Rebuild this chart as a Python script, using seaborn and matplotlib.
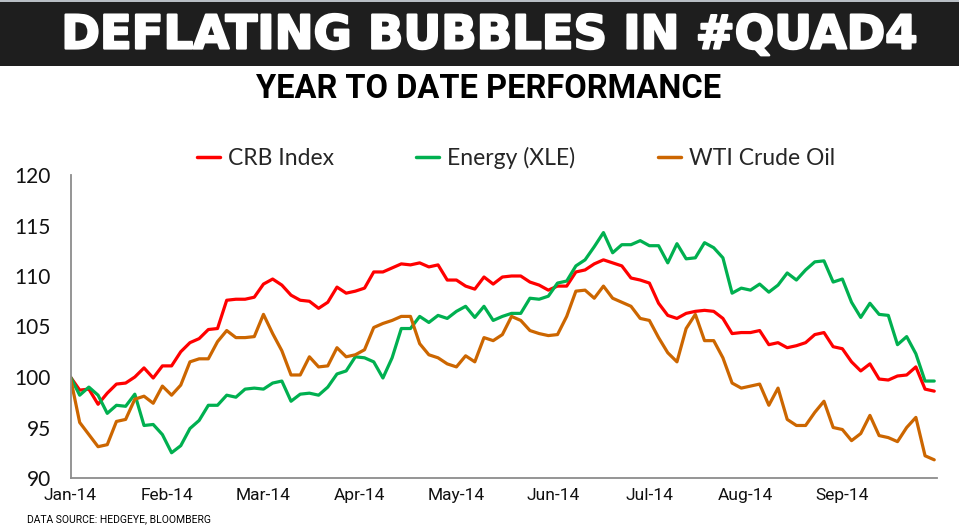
import numpy as np
import pandas as pd
import matplotlib
matplotlib.use("Agg")
import matplotlib.pyplot as plt
from matplotlib import font_manager as fm
from matplotlib.patches import Rectangle
from matplotlib.lines import Line2D
import matplotlib.patheffects as pe
import seaborn as sns

# ---------------- data (every 2nd trading day, YTD 2014, rebased to 100) -------------
crb = [100.0, 98.7, 98.8, 97.3, 98.4, 99.3, 99.4, 100.0, 100.9, 99.9,
       101.1, 101.1, 102.5, 103.4, 103.8, 104.7, 104.8, 107.6, 107.7, 107.7,
       107.9, 109.2, 109.7, 109.1, 108.1, 107.6, 107.5, 106.8, 107.4, 108.9,
       108.3, 108.5, 108.8, 110.4, 110.4, 110.8, 111.2, 111.1, 111.3, 110.9,
       111.1, 109.6, 109.6, 109.0, 108.7, 109.9, 109.2, 109.9, 110.0, 110.0,
       109.4, 109.1, 108.6, 109.0, 109.0, 110.4, 110.6, 111.2, 111.6, 111.3,
       111.0, 109.8, 109.6, 109.3, 107.3, 106.1, 105.8, 106.3, 106.5, 106.6,
       106.5, 105.8, 104.3, 104.4, 104.4, 104.6, 103.2, 103.4, 102.9, 103.1,
       103.4, 104.2, 104.4, 103.0, 102.8, 101.5, 100.6, 101.3, 99.8, 99.7,
       100.1, 100.2, 101.0, 98.8, 98.6]
xle = [100.0, 98.2, 99.0, 98.2, 96.4, 97.2, 97.1, 98.3, 95.2, 95.3,
       94.3, 92.5, 93.2, 94.9, 95.7, 97.2, 97.2, 98.2, 98.0, 98.8,
       98.9, 98.8, 99.4, 99.6, 97.6, 98.3, 98.4, 98.2, 99.0, 100.3,
       100.6, 102.0, 101.9, 101.5, 99.9, 101.9, 104.8, 104.8, 106.0, 105.4,
       106.1, 105.8, 106.5, 107.0, 105.9, 107.0, 105.6, 106.0, 106.3, 106.3,
       107.8, 107.7, 108.0, 109.3, 109.5, 111.0, 111.6, 112.9, 114.3, 112.3,
       113.1, 113.1, 113.5, 113.0, 113.0, 111.3, 113.2, 111.7, 111.8, 113.3,
       112.8, 111.8, 108.3, 108.8, 108.6, 109.2, 108.4, 109.1, 110.3, 109.6,
       110.6, 111.4, 111.5, 109.4, 109.7, 107.4, 105.9, 107.3, 106.2, 106.1,
       103.2, 104.0, 102.3, 99.6, 99.6]
wti = [99.9, 95.5, 94.3, 93.1, 93.3, 95.6, 95.8, 97.8, 98.1, 97.4,
       99.1, 98.2, 99.2, 101.5, 101.8, 101.8, 103.5, 104.6, 103.9, 103.9,
       104.0, 106.2, 104.3, 102.6, 100.2, 100.2, 102.0, 101.0, 101.1, 102.9,
       102.0, 102.2, 102.7, 104.9, 105.3, 105.6, 106.0, 106.0, 103.3, 102.2,
       101.9, 101.3, 101.0, 102.1, 101.5, 103.9, 103.6, 104.2, 106.0, 105.6,
       104.6, 104.3, 104.1, 104.2, 106.0, 108.5, 108.6, 107.8, 109.0, 107.8,
       107.4, 107.0, 105.8, 105.6, 103.9, 102.4, 101.5, 104.8, 106.2, 103.6,
       103.6, 101.9, 99.4, 98.9, 99.1, 99.3, 97.2, 98.9, 95.8, 95.2,
       95.2, 96.5, 97.6, 95.0, 94.8, 93.7, 94.4, 96.2, 94.2, 94.0,
       93.6, 95.0, 96.0, 92.2, 91.8]
series_names = ["CRB Index", "Energy (XLE)", "WTI Crude Oil"]
series_colors = ["#FF0000", "#00B050", "#CC6600"]
month_labels = ["Jan-14", "Feb-14", "Mar-14", "Apr-14", "May-14",
                "Jun-14", "Jul-14", "Aug-14", "Sep-14"]
days_per_month = 21
step_days = 2

day = np.arange(len(crb)) * step_days
df = pd.concat([
    pd.DataFrame({"day": day, "value": vals, "series": name})
    for name, vals in zip(series_names, [crb, xle, wti])
], ignore_index=True)

# ---------------- fonts -------------
sns.set_style("white")
flist = fm.fontManager.ttflist
names = {f.name for f in flist}

narrow_family = "Liberation Sans Narrow" if "Liberation Sans Narrow" in names else "Roboto"
body_family = "Lato" if "Lato" in names else "DejaVu Sans"
plt.rcParams["font.family"] = [body_family, "DejaVu Sans"]

W, H = 959, 527
fig = plt.figure(figsize=(W / 100, H / 100), dpi=100)
ax = fig.add_axes([70.5 / W, 1 - 478 / H, (937 - 70.5) / W, (478 - 175) / H])

sns.lineplot(data=df, x="day", y="value", hue="series", palette=series_colors,
             hue_order=series_names, linewidth=2.3, ax=ax, legend=False)

ax.set_xlim(0, 188.6)
ax.set_ylim(90, 120)
ax.set_yticks(np.arange(90, 121, 5))
ax.set_xticks(np.arange(len(month_labels)) * days_per_month)
ax.set_xticklabels(month_labels, family=[narrow_family, "DejaVu Sans"], fontsize=12.5)
ax.set_xlabel("")
ax.set_ylabel("")
for lab in ax.get_yticklabels():
    lab.set_fontsize(15)
for s in ["top", "right"]:
    ax.spines[s].set_visible(False)
for s in ["left", "bottom"]:
    ax.spines[s].set_color("#8C8C8C")
    ax.spines[s].set_linewidth(1.3)
ax.tick_params(axis="y", direction="out", length=5, width=1.2, color="#8C8C8C", pad=9, labelcolor="#111111")
ax.tick_params(axis="x", direction="out", length=4, width=1.2, color="#8C8C8C", pad=3, labelcolor="#111111")
ax.grid(False)

# legend
handles = [Line2D([0], [0], color=c, lw=2.5) for c in series_colors]
fig.legend(handles, series_names, loc="center", bbox_to_anchor=(516 / W, 1 - 158 / H),
           ncol=3, frameon=False, fontsize=16.5, handlelength=1.0, handletextpad=0.35,
           columnspacing=3.6)

# banner + titles
fig.patches.append(Rectangle((0, 1 - 66 / H), 1, 66 / H, transform=fig.transFigure,
                             facecolor="#1E1E1E", edgecolor="none", zorder=0))
fig.patches.append(Rectangle((0, 1 - 2 / H), 1, 2 / H, transform=fig.transFigure,
                             facecolor="#B8BEC4", edgecolor="none", zorder=1))
fig.text(489 / W, 1 - 36 / H, "DEFLATING BUBBLES IN #QUAD4", ha="center", va="center",
         color="white", fontsize=33.5, family="DejaVu Sans", weight="bold",
         path_effects=[pe.withStroke(linewidth=1.6, foreground="white")])
fig.text(489 / W, 1 - 89 / H, "YEAR TO DATE PERFORMANCE", ha="center", va="center",
         color="black", fontsize=23.5, family=[narrow_family, "DejaVu Sans"], weight="bold")
fig.text(27 / W, 1 - 519 / H, "DATA SOURCE: HEDGEYE, BLOOMBERG", ha="left", va="center",
         color="black", fontsize=7.5, family=[narrow_family, "DejaVu Sans"])

fig.savefig("out.png", dpi=100)
